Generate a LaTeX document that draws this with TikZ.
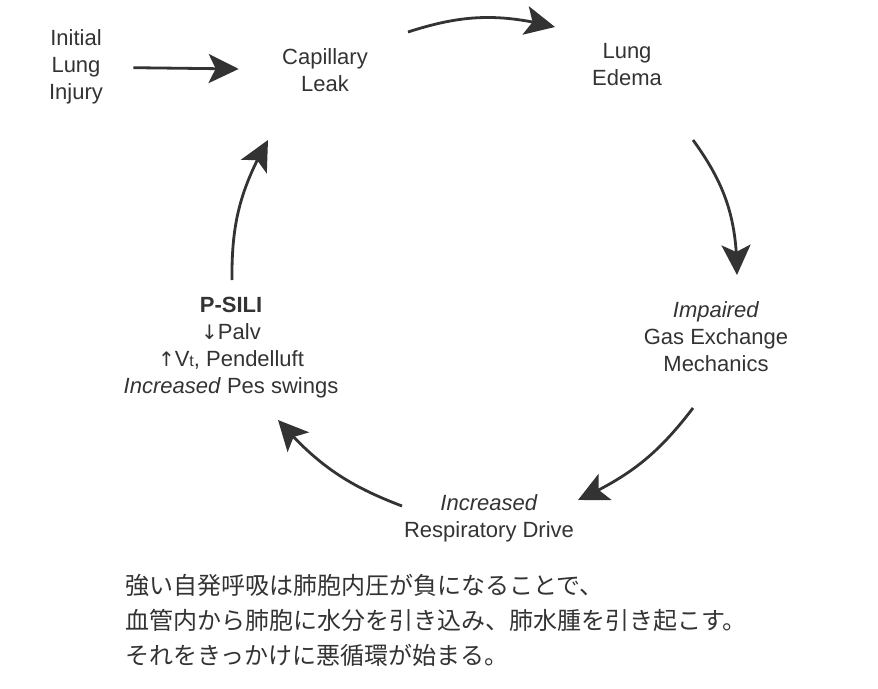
\documentclass[tikz,border=0pt]{standalone}
\usepackage{fontspec}
\setmainfont{Liberation Sans}
\newfontfamily\jpfont{Noto Sans CJK JP}
\newfontfamily\arrowfont{DejaVu Sans}
\usetikzlibrary{arrows.meta, bending}
\definecolor{inkgray}{HTML}{333333}
\tikzset{
	cycletext/.style={font=\fontsize{22}{27}\selectfont, text=inkgray, align=center}
}
\tikzset{
	cyclearrow/.style={draw=inkgray, line width=2.8pt, -{Stealth[length=30pt, width=29pt, inset=7pt]}}
}
\newcommand{\dnarrow}{{\arrowfont\fontsize{20}{20}\selectfont ↓}}
\newcommand{\uparrowsym}{{\arrowfont\fontsize{20}{20}\selectfont ↑}}

\begin{document}
\begin{tikzpicture}[x=1pt, y=1pt]
      \useasboundingbox (0,0) rectangle (878,-688);
      % stages of the cycle
      \node[cycletext] (injury) at (76,-67) {Initial\\Lung\\Injury};
      \node[cycletext] (leak) at (325,-70) {Capillary\\Leak};
      \node[cycletext] (edema) at (627,-65) {Lung\\Edema};
      \node[cycletext] (gas) at (716,-337) {\textit{Impaired}\\Gas Exchange\\Mechanics};
      \node[cycletext] (drive) at (489,-518) {\textit{Increased}\\Respiratory Drive};
      \node[cycletext] (psili) at (231,-348) {\textbf{P-SILI}\\\dnarrow Palv\\\uparrowsym V{\fontsize{16}{16}\selectfont t}, Pendelluft\\\textit{Increased} Pes swings};
      % ends of the ring arrows
      \coordinate (ringA) at (408,-32);
      \coordinate (ringB) at (555,-27);
      \coordinate (ringC) at (693,-140);
      \coordinate (ringD) at (737,-275);
      \coordinate (ringE) at (693,-408);
      \coordinate (ringF) at (578,-500);
      \coordinate (ringG) at (402,-506);
      \coordinate (ringH) at (278,-420);
      \coordinate (ringI) at (232,-280);
      \coordinate (ringJ) at (268,-140);
      % entry arrow
      \draw[cyclearrow, shorten <=27pt, shorten >=40pt] (injury) -- (leak);
      % the vicious circle
      \draw[cyclearrow] (ringA) to[bend left=16] (ringB);
      \draw[cyclearrow] (ringC) to[bend left=18] (ringD);
      \draw[cyclearrow] (ringE) to[bend left=14] (ringF);
      \draw[cyclearrow] (ringG) to[bend left=14] (ringH);
      \draw[cyclearrow] (ringI) to[bend left=15] (ringJ);
      % note below
      \node[anchor=west, align=left, text=inkgray, font=\jpfont\fontsize{24}{35}\selectfont] (note) at (122,-620)
        {強い自発呼吸は肺胞内圧が負になることで、\\血管内から肺胞に水分を引き込み、肺水腫を引き起こす。\\それをきっかけに悪循環が始まる。};
    \end{tikzpicture}
\end{document}
